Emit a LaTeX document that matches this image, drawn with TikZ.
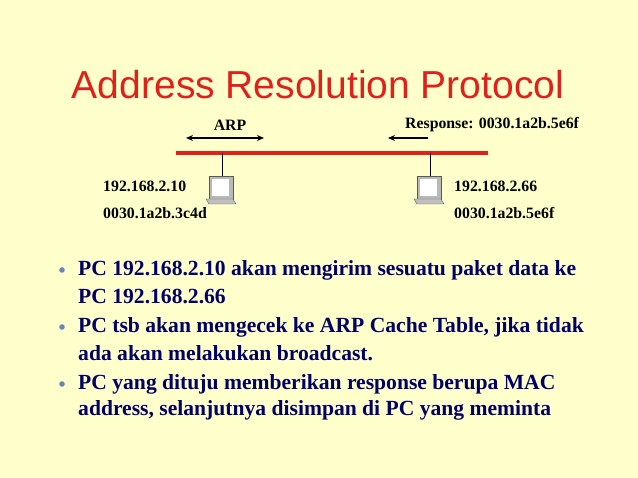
\documentclass[tikz,border=0pt]{standalone}
\usepackage{fontspec}
\setmainfont{Liberation Serif}
\newfontfamily\arial{Liberation Sans}
\usetikzlibrary{arrows.meta}
\definecolor{bg}{HTML}{FFFFCC}
\definecolor{ttl}{HTML}{E0201B}
\definecolor{navy}{HTML}{000066}
\definecolor{bul}{HTML}{6A86B8}
\begin{document}
\begin{tikzpicture}[x=1pt,y=-1pt,
 lbl/.style={font=\bfseries\fontsize{15.8}{18}\selectfont,anchor=west,inner sep=0},
 bl/.style={font=\bfseries\fontsize{21.6}{24}\selectfont,text=navy,anchor=west,inner sep=0},
 arr/.style={-{Stealth[length=7pt,width=6pt]},line width=1.6pt}]
\fill[bg] (0,0) rectangle (638,478);
\useasboundingbox (0,0) rectangle (638,478);
\node[text=ttl,font=\arial\fontsize{39}{44}\selectfont] (title) at (318,85) {Address Resolution Protocol};
\coordinate (bl) at (176,153); \coordinate (br) at (488,153);
\draw[ttl,line width=4] (bl) -- (br);
\node[lbl,anchor=center] (arp) at (230,125) {ARP};
\node[lbl] (resp) at (405,125) {Response: 0030.1a2b.5e6f};
\coordinate (a1) at (186,138); \coordinate (a2) at (264,138);
\draw[arr,{Stealth[length=7pt,width=6pt]}-{Stealth[length=7pt,width=6pt]}] (a1) -- (a2);
\coordinate (r1) at (428,138); \coordinate (r2) at (388,138);
\draw[arr] (r1) -- (r2);
\foreach \n/\x in {pa/222,pb/430}{
 \coordinate (\n top) at (\x,153);
 \coordinate (\n mon) at (\x,176);
 \draw[thick] (\n top) -- (\n mon);
 \fill[gray!55] (\x-13,176) rectangle (\x+11,199);
 \fill[white] (\x-10,179) rectangle (\x+7,196);
 \draw[gray!70!black] (\x-13,176) rectangle (\x+11,199);
 \fill[gray!50,draw=gray!70!black] (\x-16,199) -- (\x+11,199) -- (\x+14,204) -- (\x-13,204) -- cycle;
}
\node[lbl] (ipa) at (103,186) {192.168.2.10};
\node[lbl] (maca) at (103,213) {0030.1a2b.3c4d};
\node[lbl] (ipb) at (454,186) {192.168.2.66};
\node[lbl] (macb) at (454,213) {0030.1a2b.5e6f};
\foreach \y in {270,327,384}{\fill[bul] (62,\y) circle (2.8);}
\node[bl] (l1) at (78,270) {PC 192.168.2.10 akan mengirim sesuatu paket data ke};
\node[bl] (l2) at (78,296) {PC 192.168.2.66};
\node[bl] (l3) at (78,327) {PC tsb akan mengecek ke ARP Cache Table, jika tidak};
\node[bl] (l4) at (78,353) {ada akan melakukan broadcast.};
\node[bl] (l5) at (78,384) {PC yang dituju memberikan response berupa MAC};
\node[bl] (l6) at (78,410) {address, selanjutnya disimpan di PC yang meminta};
\end{tikzpicture}
\end{document}
